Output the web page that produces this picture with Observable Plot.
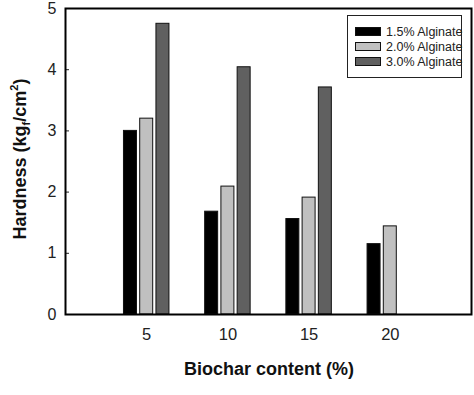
<!DOCTYPE html>
<html>
<head>
<meta charset="utf-8">
<script src="https://cdn.jsdelivr.net/npm/d3@7"></script>
<script src="https://cdn.jsdelivr.net/npm/@observablehq/plot@0.6"></script>
<style>
  html, body { margin: 0; padding: 0; background: #fff; }
  svg { font-family: "Liberation Sans", Arial, sans-serif; }
</style>
</head>
<body>
<div id="chart"></div>
<script>
const contents = [5, 10, 15, 20];
const series = ["1.5% Alginate", "2.0% Alginate", "3.0% Alginate"];
const alg15 = [3.0, 1.68, 1.56, 1.15];
const alg20 = [3.2, 2.09, 1.91, 1.44];
const alg30 = [4.75, 4.04, 3.71, null];
const colors = ["#000000", "#c0c0c0", "#606060"];
const yTicks = [0, 1, 2, 3, 4, 5];
const xTicks = [5, 10, 15, 20];

const values = [alg15, alg20, alg30];
const rows = [];
series.forEach((s, i) => {
  contents.forEach((c, j) => {
    const v = values[i][j];
    if (v != null) rows.push({content: c, series: s, idx: i, value: v});
  });
});
// grouped layout: 3 bars per group, one unit step, 0.8 unit wide
rows.forEach(d => { d.x1 = d.content + (d.idx - 1) - 0.4; d.x2 = d.x1 + 0.8; });

const W = 474, H = 395;
const plot = Plot.plot({
  width: W,
  height: H,
  marginTop: 8,
  marginLeft: 65,
  marginRight: 3,
  marginBottom: 81,
  style: {fontFamily: '"Liberation Sans", Arial, sans-serif', fontSize: "16px", color: "#222", background: "#fff"},
  x: {domain: [0, 25]},
  y: {domain: [0, 5]},
  color: {domain: series, range: colors},
  marks: [
    Plot.rectY(rows, {x1: "x1", x2: "x2", y1: 0, y2: "value", fill: "series", stroke: "#111", strokeWidth: 1}),
    Plot.axisY(yTicks, {tickSize: -4, tickPadding: 13, tickFormat: d3.format("d"), label: null, fontSize: 16, fill: "#222"}),
    Plot.axisX(xTicks, {tickSize: 0, tickPadding: 14, tickFormat: d3.format("d"), label: null, fontSize: 16.5, fill: "#222"}),
    Plot.frame({stroke: "#000", strokeWidth: 2})
  ]
});
document.getElementById("chart").appendChild(plot);

const svg = d3.select(plot);
// Axis titles
svg.append("text")
  .attr("x", 269).attr("y", 375)
  .attr("text-anchor", "middle")
  .attr("font-size", 18).attr("font-weight", "bold").attr("fill", "#111")
  .text("Biochar content (%)");

const yl = svg.append("text")
  .attr("transform", "translate(26,159) rotate(-90)")
  .attr("text-anchor", "middle")
  .attr("font-size", 18).attr("font-weight", "bold").attr("fill", "#111");
yl.append("tspan").text("Hardness (kg");
yl.append("tspan").attr("font-size", 11).attr("dy", 4).text("f");
yl.append("tspan").attr("dy", -4).text("/cm");
yl.append("tspan").attr("font-size", 11).attr("dy", -8).text("2");
yl.append("tspan").attr("dy", 8).text(")");

// Legend
const lg = svg.append("g").attr("text-anchor", "start");
lg.append("rect").attr("x", 347.5).attr("y", 15.5).attr("width", 114).attr("height", 62)
  .attr("fill", "#fff").attr("stroke", "#222").attr("stroke-width", 1);
series.forEach((s, i) => {
  const cy = 31.5 + i * 15;
  lg.append("rect").attr("x", 355.5).attr("y", cy - 4).attr("width", 25).attr("height", 8)
    .attr("fill", colors[i]).attr("stroke", "#111").attr("stroke-width", 1);
  lg.append("text").attr("x", 386).attr("y", cy + 4.5).attr("text-anchor", "start")
    .attr("font-size", 12.5).attr("fill", "#222").text(s);
});
</script>
</body>
</html>
